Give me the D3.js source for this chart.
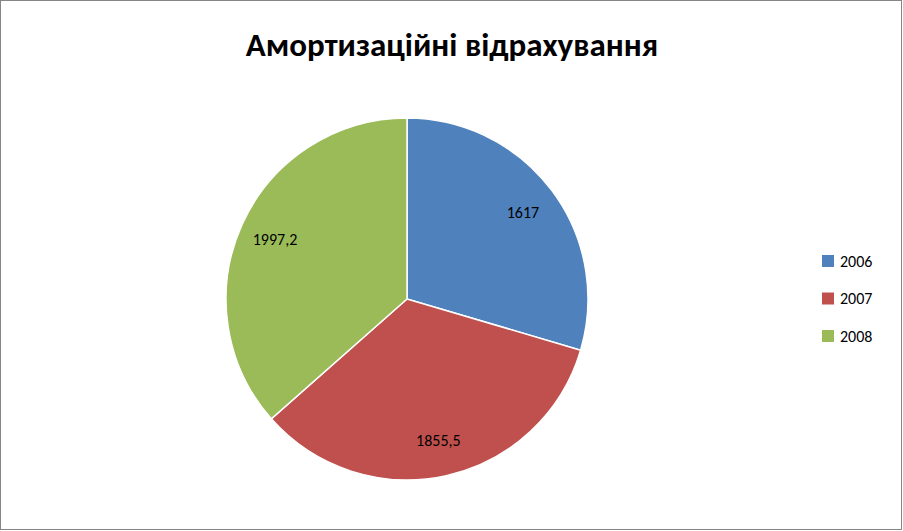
<!DOCTYPE html>
<html><head><meta charset="utf-8">
<script src="https://cdn.jsdelivr.net/npm/d3@7"></script>
<style>body{margin:0;background:#fff}</style>
</head><body><div id="chart"></div>
<script>
const width = 903, height = 531;
const years = ["2006", "2007", "2008"];
const values = [1617, 1855.5, 1997.2];
const labels = ["1617", "1855,5", "1997,2"];
const colors = ["#4F81BD", "#C0504D", "#9BBB59"];
const font = "Carlito, Calibri, 'Open Sans', sans-serif";

const svg = d3.select("#chart").append("svg")
   .attr("width", width).attr("height", height);

svg.append("rect")
   .attr("x", 0.5).attr("y", 0.5)
   .attr("width", width - 2).attr("height", height - 2)
   .attr("fill", "#fff").attr("stroke", "#868686");

svg.append("text")
   .attr("x", 452).attr("y", 56)
   .attr("text-anchor", "middle")
   .style("font-family", font).style("font-weight", "bold").style("font-size", "33px")
   .text("Амортизаційні відрахування");

const cx = 407, cy = 299, r = 181;
const pie = d3.pie().sort(null).value(d => d)(values);
const arc = d3.arc().innerRadius(0).outerRadius(r);
const labelArc = d3.arc().innerRadius(r * 0.8).outerRadius(r * 0.8);

const g = svg.append("g").attr("transform", `translate(${cx},${cy})`);
g.selectAll("path").data(pie).enter().append("path")
   .attr("d", arc)
   .attr("fill", (d, i) => colors[i])
   .attr("stroke", "#fff").attr("stroke-width", 1.5);

g.selectAll("text").data(pie).enter().append("text")
   .attr("transform", d => `translate(${labelArc.centroid(d)})`)
   .attr("text-anchor", "middle").attr("dy", "0.35em")
   .style("font-family", font).style("font-size", "16px")
   .text((d, i) => labels[i]);

const legend = svg.append("g");
const ly = d3.scalePoint().domain(years).range([261, 336]);
years.forEach((y, i) => {
   legend.append("rect")
      .attr("x", 822).attr("y", ly(y) - 6)
      .attr("width", 12).attr("height", 12)
      .attr("fill", colors[i]);
   legend.append("text")
      .attr("x", 840).attr("y", ly(y)).attr("dy", "0.35em")
      .style("font-family", font).style("font-size", "16px")
      .text(y);
});
</script>
</body></html>
